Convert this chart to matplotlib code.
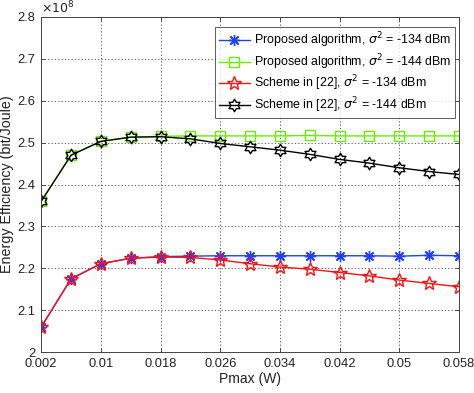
import numpy as np
import matplotlib
matplotlib.use("Agg")
import matplotlib.pyplot as plt
from matplotlib.path import Path

plt.rcParams['font.family'] = ['Liberation Sans', 'DejaVu Sans']
plt.rcParams['mathtext.fontset'] = 'dejavusans'

# Pmax (W)
pmax = [0.002, 0.006, 0.010, 0.014, 0.018, 0.022, 0.026, 0.030,
        0.034, 0.038, 0.042, 0.046, 0.050, 0.054, 0.058]

# energy efficiency, in units of 1e8 bit/Joule
prop_134 = [2.060, 2.175, 2.211, 2.224, 2.228, 2.229, 2.230, 2.230,
            2.230, 2.230, 2.230, 2.230, 2.229, 2.231, 2.230]
prop_144 = [2.360, 2.470, 2.503, 2.513, 2.515, 2.516, 2.516, 2.516,
            2.516, 2.517, 2.516, 2.516, 2.516, 2.516, 2.516]
ref_134 = [2.060, 2.175, 2.211, 2.224, 2.227, 2.226, 2.220, 2.211,
           2.203, 2.198, 2.190, 2.182, 2.172, 2.164, 2.156]
ref_144 = [2.360, 2.470, 2.503, 2.513, 2.514, 2.509, 2.498, 2.490,
           2.482, 2.472, 2.460, 2.451, 2.440, 2.431, 2.424]

labels = ['Proposed algorithm, $\\sigma^2$ = -134 dBm',
          'Proposed algorithm, $\\sigma^2$ = -144 dBm',
          'Scheme in [22], $\\sigma^2$ = -134 dBm',
          'Scheme in [22], $\\sigma^2$ = -144 dBm']

xticks = [0.002, 0.01, 0.018, 0.026, 0.034, 0.042, 0.05, 0.058]
xticklabels = ['0.002', '0.01', '0.018', '0.026', '0.034', '0.042', '0.05', '0.058']
yticks = [2, 2.1, 2.2, 2.3, 2.4, 2.5, 2.6, 2.7, 2.8]
yticklabels = ['2', '2.1', '2.2', '2.3', '2.4', '2.5', '2.6', '2.7', '2.8']

# six-pointed star (hexagram) marker
ang = np.pi / 2 + np.arange(12) * np.pi / 6
rad = np.where(np.arange(12) % 2 == 0, 1.0, 0.58)
hexa = np.column_stack([rad * np.cos(ang), rad * np.sin(ang)])
hexagram = Path(np.vstack([hexa, hexa[:1]]), closed=True)

fig = plt.figure(figsize=(4.74, 3.93), dpi=100)
ax = fig.add_axes([0.087, 0.104, 0.881, 0.853])

ax.plot(pmax, prop_134, color='#2040ff', lw=1.0, marker=(8, 2, 0), ms=8,
        mew=1.0, label=labels[0])
ax.plot(pmax, prop_144, color='#66ee00', lw=1.0, marker='s', ms=7,
        mfc='none', mew=1.0, label=labels[1])
ax.plot(pmax, ref_134, color='#ff1010', lw=1.0, marker='*', ms=10,
        mfc='none', mew=1.0, label=labels[2])
ax.plot(pmax, ref_144, color='black', lw=1.0, marker=hexagram, ms=9,
        mfc='none', mew=1.0, label=labels[3])

ax.set_xlim(0.002, 0.058)
ax.set_ylim(2, 2.8)
ax.set_xticks(xticks)
ax.set_xticklabels(xticklabels)
ax.set_yticks(yticks)
ax.set_yticklabels(yticklabels)
ax.tick_params(direction='in', top=True, right=True, labelsize=9.3,
               length=3, width=0.6, colors='#333333', labelcolor='#222222', pad=4)
ax.grid(True, linestyle=(0, (1.5, 2.5)), color='#444444', lw=0.6)
for s in ax.spines.values():
    s.set_linewidth(0.7)
    s.set_color('#444444')

ax.set_xlabel('Pmax (W)', fontsize=10, color='#222222', labelpad=2)
ax.set_ylabel('Energy Efficiency (bit/Joule)', fontsize=10.3, color='#222222', labelpad=3)
ax.text(0.0, 1.003, '$\\times10^{8}$', transform=ax.transAxes, fontsize=9,
        color='#222222', ha='left', va='bottom')

leg = ax.legend(loc='upper right', bbox_to_anchor=(0.99, 0.97), fontsize=8.9,
                frameon=True, fancybox=False, borderpad=0.3, labelspacing=0.15,
                handlelength=2.5, handletextpad=0.3, borderaxespad=0.0)
leg.get_frame().set_edgecolor('#333333')
leg.get_frame().set_linewidth(0.7)

fig.savefig('out.png', dpi=100)
